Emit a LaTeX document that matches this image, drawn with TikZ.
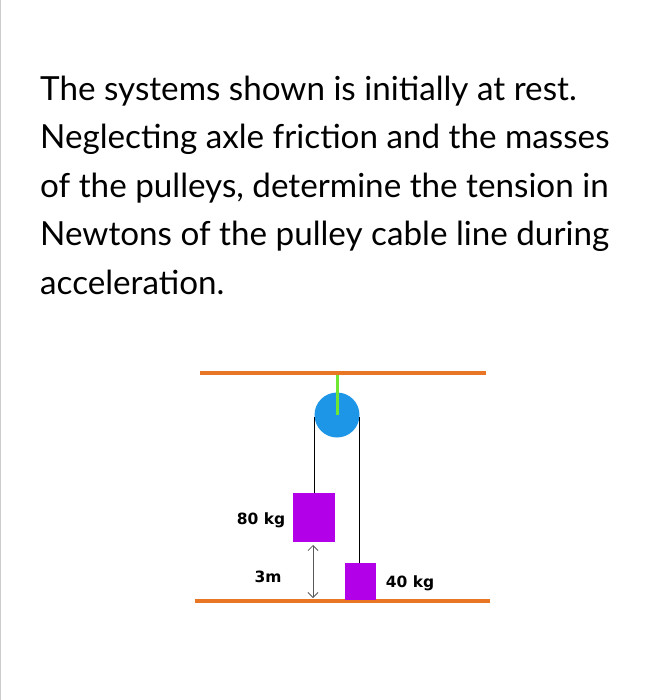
\documentclass[tikz,border=0pt]{standalone}
\usepackage{fontspec}
\usetikzlibrary{arrows.meta}
\setmainfont{Lato}
\newfontfamily\lblfont{DejaVu Sans}
\definecolor{bar}{RGB}{232,118,36}
\definecolor{pul}{RGB}{30,150,232}
\definecolor{mass}{RGB}{178,0,232}
\definecolor{hang}{RGB}{110,230,50}
\begin{document}
\begin{tikzpicture}[x=1pt,y=-1pt,
  barline/.style={bar,line width=4.5pt},
  rope/.style={black,line width=1.2pt},
  massbox/.style={fill=mass,draw=none},
  lbl/.style={font=\fontsize{15.5}{18}\selectfont\lblfont\bfseries},
  txt/.style={anchor=base west,inner sep=0pt,font=\fontsize{33.2}{40}\selectfont}]
\useasboundingbox (0,0) rectangle (648,700);
\draw[gray!40,line width=1pt] (0.5,0) -- (0.5,700);
\node[txt] (l1) at (40,101) {The systems shown is initially at rest.};
\node[txt] (l2) at (40,149) {Neglecting axle friction and the masses};
\node[txt] (l3) at (40,198) {of the pulleys, determine the tension in};
\node[txt] (l4) at (40,246) {Newtons of the pulley cable line during};
\node[txt] (l5) at (40,294) {acceleration.};
\coordinate (t1) at (200,373); \coordinate (t2) at (486,373);
\coordinate (b1) at (195,601); \coordinate (b2) at (490,601);
\draw[barline] (t1) -- (t2);
\draw[barline] (b1) -- (b2);
\node[circle,fill=pul,minimum size=45pt,inner sep=0pt] (p) at (337,415) {};
\coordinate (hc) at (337,375);
\draw[hang,line width=3pt] (hc) -- (p.center);
\node[massbox,minimum width=42pt,minimum height=49pt,anchor=north west] (m1) at (293,493) {};
\node[massbox,minimum width=31pt,minimum height=37pt,anchor=north west] (m2) at (345,563) {};
\draw[rope] (p.west) ++(0,2) coordinate (pl) -- (m1.north-|pl);
\draw[rope] (p.east) ++(0,2) coordinate (pr) -- (m2.north-|pr);
\coordinate (a1) at (313,545); \coordinate (a2) at (313,598);
\draw[gray!70!black,line width=0.8pt,{Straight Barb[length=5pt]}-{Straight Barb[length=5pt]}] (a1) -- (a2);
\node[lbl] (n80) at (261,520) {80 kg};
\node[lbl] (n3) at (268,577) {3m};
\node[lbl] (n40) at (410,583) {40 kg};
\end{tikzpicture}
\end{document}
